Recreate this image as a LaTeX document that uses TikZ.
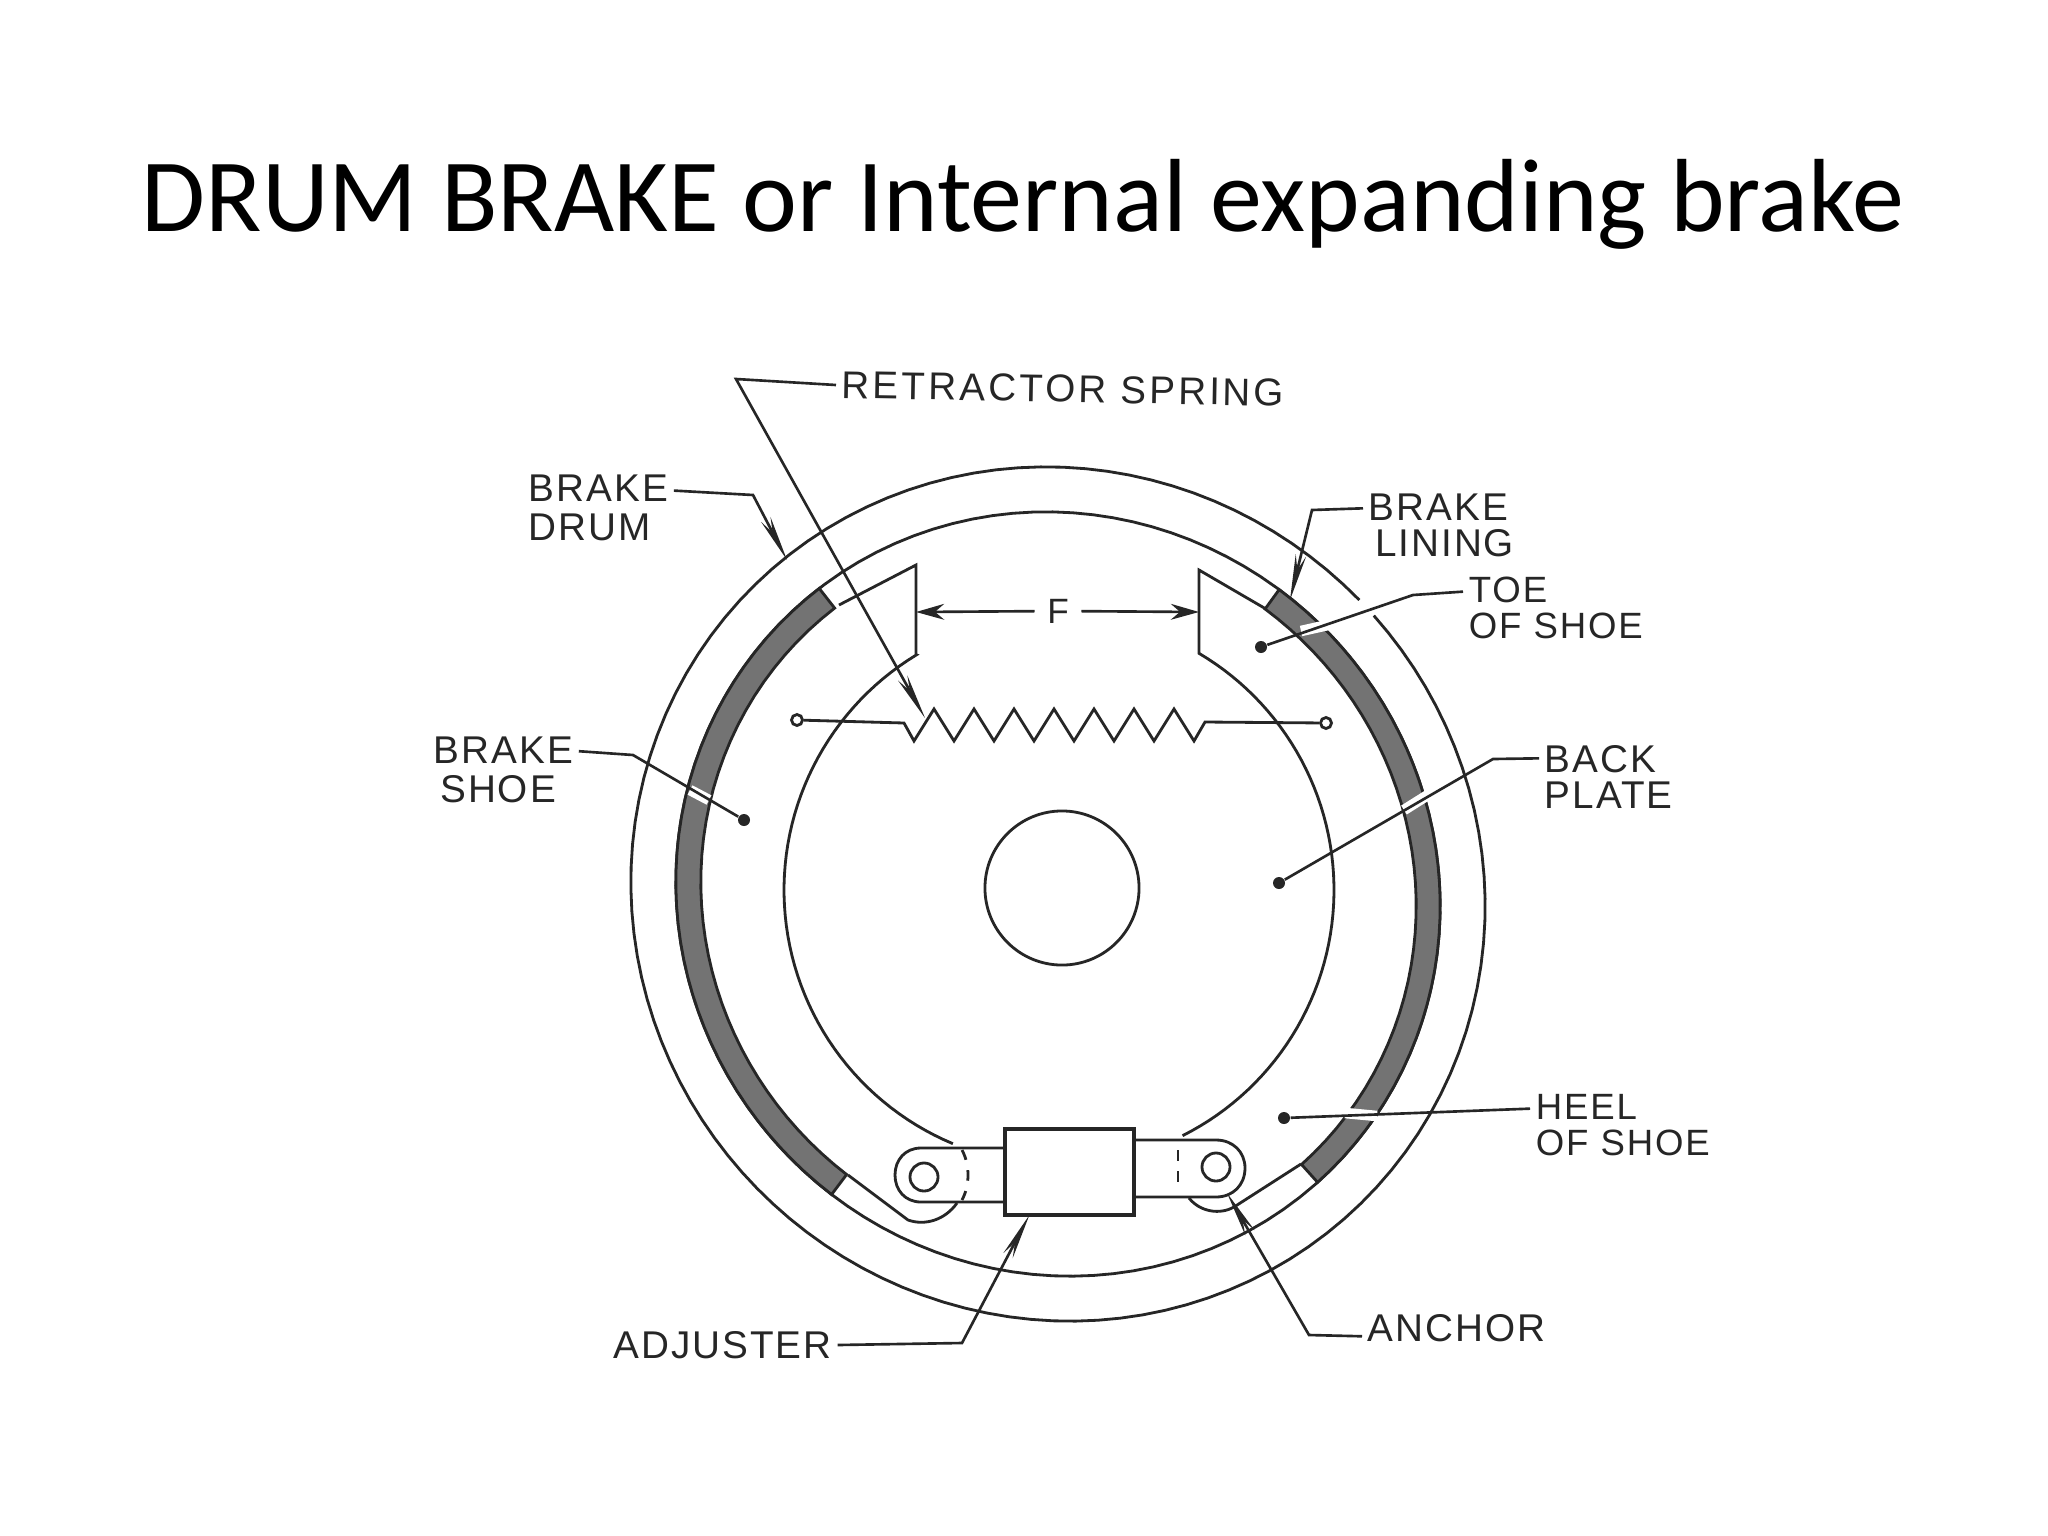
\documentclass[tikz,border=0pt]{standalone}
\usepackage{fontspec}
\usepackage{tikz}
\usetikzlibrary{arrows.meta}
\newfontfamily\titlefont{Carlito}
\newfontfamily\partfont[LetterSpace=5]{Liberation Sans}
\newfontfamily\widepartfont[LetterSpace=8]{Liberation Sans}
\definecolor{inkgray}{gray}{0.15}
\definecolor{liningray}{gray}{0.45}
\tikzset{
    outline/.style={line width=.8pt,color=inkgray},
    leader/.style={line width=.75pt,color=inkgray},
    pointer/.style={leader,-{Stealth[length=13pt,width=3pt]}},
    force/.style={leader,-{Stealth[length=8pt,width=4.5pt]}},
    part/.style={font=\partfont\fontsize{11}{10.3}\selectfont,align=left,inner sep=1.5pt,color=inkgray},
    narrowpart/.style={part,font=\partfont\fontsize{10.4}{10.3}\selectfont},
    spot/.style={circle,fill=inkgray,inner sep=0pt,minimum size=.12cm},
    pin/.style={circle,draw=inkgray,line width=.8pt,fill=white,inner sep=0pt,minimum size=.11cm},
    eye/.style={circle,draw=inkgray,line width=.8pt,inner sep=0pt,minimum size=.28cm},
    declare function={
        rdrum(\t)=382+6*sin(2*\t);
        xdrum(\t,\d)=1058+(rdrum(\t)-\d)*cos(\t);
        ydrum(\t,\d)=894+(rdrum(\t)-\d)*sin(\t);
        xweb(\t)=1059+275*cos(\t);
        yweb(\t)=890+275*sin(\t);
    },
}
\begin{document}
\begin{tikzpicture}[x=.01cm,y=-.01cm]
    \useasboundingbox (0,0) rectangle (2048,1536);
    \fill [white] (0,0) rectangle (2048,1536);
    \node [font=\titlefont\fontsize{29.56}{36}\selectfont,inner sep=0pt] (title) at (1023,204) {DRUM BRAKE or Internal expanding brake};

    % drum
    \draw [outline] plot [domain=-41.4:315.7,samples=120] ({xdrum(\x,-45)},{ydrum(\x,-45)});
    \draw [outline] plot [domain=0:360,samples=120] ({xdrum(\x,0)},{ydrum(\x,0)}) -- cycle;

    % linings
    \filldraw [outline,fill=liningray] plot [domain=232:127,samples=40] ({xdrum(\x,0)},{ydrum(\x,0)}) -- plot [domain=127:232,samples=40] ({xdrum(\x,25)},{ydrum(\x,25)}) -- cycle;
    \filldraw [outline,fill=liningray] plot [domain=-54:48,samples=40] ({xdrum(\x,0)},{ydrum(\x,0)}) -- plot [domain=48:-54,samples=40] ({xdrum(\x,24)},{ydrum(\x,24)}) -- cycle;
    \foreach \xa/\ya/\xb/\yb in {690/790/709/800, 1404/810/1431/793, 1301/631/1328/625, 1345/1113/1377/1116}{
        \draw [white,line width=3pt] (\xa,\ya) -- (\xb,\yb);
    }

    % shoes
    \draw [outline] (839,605) -- (916,565) -- (916,655) -- plot [domain=238.7:112.7,samples=60] ({xweb(\x)},{yweb(\x)});
    \draw [outline] (1266,609) -- (1199,570) -- (1199,653) -- plot [domain=-59.4:63.3,samples=60] ({xweb(\x)},{yweb(\x)});
    \draw [outline] (848,1175) -- (908,1220) .. controls (925,1226) and (945,1220) .. (957,1203);
    \draw [outline] (1301,1164) -- (1234,1207) .. controls (1220,1215) and (1200,1212) .. (1189,1198);

    % hub and adjuster
    \node [circle,draw=inkgray,line width=.8pt,inner sep=0pt,minimum size=1.54cm] (hub) at (1062,888) {};
    \node [draw=inkgray,line width=.9pt,outer sep=0pt,minimum width=1.29cm,minimum height=.86cm] (adjuster) at (1069.5,1172) {};
    \draw [outline] (1005,1148) -- (921,1148) .. controls (905,1148) and (895,1160) .. (895,1175) .. controls (895,1190) and (905,1202) .. (921,1202) -- (1005,1202);
    \draw [outline] (1134,1140) -- (1216,1140) .. controls (1233,1140) and (1245,1152) .. (1245,1168) .. controls (1245,1185) and (1233,1197) .. (1216,1197) -- (1134,1197);
    \draw [outline,dashed] (962,1150) .. controls (970,1165) and (970,1185) .. (962,1200);
    \draw [outline,dashed] (1178,1150) -- (1178,1190);
    \node [eye] (eyeleft) at (924,1177) {};
    \node [eye] (eyeright) at (1216,1167) {};

    % spring
    \node [pin] (pinleft) at (797,720) {};
    \node [pin] (pinright) at (1326,723) {};
    \draw [outline] (pinleft) -- (904,723)
        \foreach \n in {0,...,6}{ -- ({914+40*\n},741) -- ({934+40*\n},709) }
        -- (1194,741) -- (1205,722) -- (pinright);

    % force arrows
    \coordinate (faceleft) at (916,612);
    \coordinate (faceright) at (1199,612);
    \node [font=\partfont\fontsize{10}{10}\selectfont,color=inkgray,inner sep=.12cm] (force) at (1058,611) {F};
    \draw [force] (force) -- (faceleft);
    \draw [force] (force) -- (faceright);

    % labels
    \node [part,anchor=west,rotate=-1,font=\widepartfont\fontsize{11}{10.3}\selectfont] (retractor) at (836,385) {RETRACTOR SPRING};
    \node [part,anchor=west] (brakedrum) at (523,508) {BRAKE\\[1pt] DRUM};
    \node [part,anchor=west] (brakeshoe) at (428,770) {BRAKE\\[1pt] \,SHOE};
    \node [part,anchor=west] (brakelining) at (1363,525) {BRAKE\\ \,LINING};
    \node [narrowpart,anchor=west] (toeofshoe) at (1463,608) {TOE\\ OF SHOE};
    \node [part,anchor=west] (backplate) at (1539,777) {BACK\\ PLATE};
    \node [narrowpart,anchor=west] (heelofshoe) at (1530,1125) {HEEL\\ OF SHOE};
    \node [part,anchor=west] (anchorpart) at (1362,1328) {ANCHOR};
    \node [part,anchor=west] (adjusterpart) at (608,1345) {ADJUSTER};

    % leaders
    \node [spot] (spotshoe) at (744,820) {};
    \node [spot] (spottoe) at (1261,647) {};
    \node [spot] (spotplate) at (1279,883) {};
    \node [spot] (spotheel) at (1284,1118) {};
    \coordinate (tipretractor) at (925,718);
    \coordinate (tipdrum) at (787,560);
    \coordinate (tiplining) at (1290,600);
    \coordinate (tipanchor) at (1227,1193);
    \draw [pointer] (retractor.west) -- (736,379) -- (tipretractor);
    \draw [pointer] (brakedrum.13) -- (753,495) -- (tipdrum);
    \draw [pointer] (brakelining.168) -- (1312,510) -- (tiplining);
    \draw [pointer] (anchorpart.185) -- (1309,1335) -- (tipanchor);
    \draw [pointer] (adjusterpart.east) -- (962,1343) -- (adjuster.227);
    \draw [leader] (brakeshoe.14) -- (633,755) -- (spotshoe);
    \draw [leader] (toeofshoe.170) -- (1413,595) -- (spottoe);
    \draw [leader] (backplate.165) -- (1493,759) -- (spotplate);
    \draw [leader] (heelofshoe.170) -- (spotheel);
\end{tikzpicture}
\end{document}
